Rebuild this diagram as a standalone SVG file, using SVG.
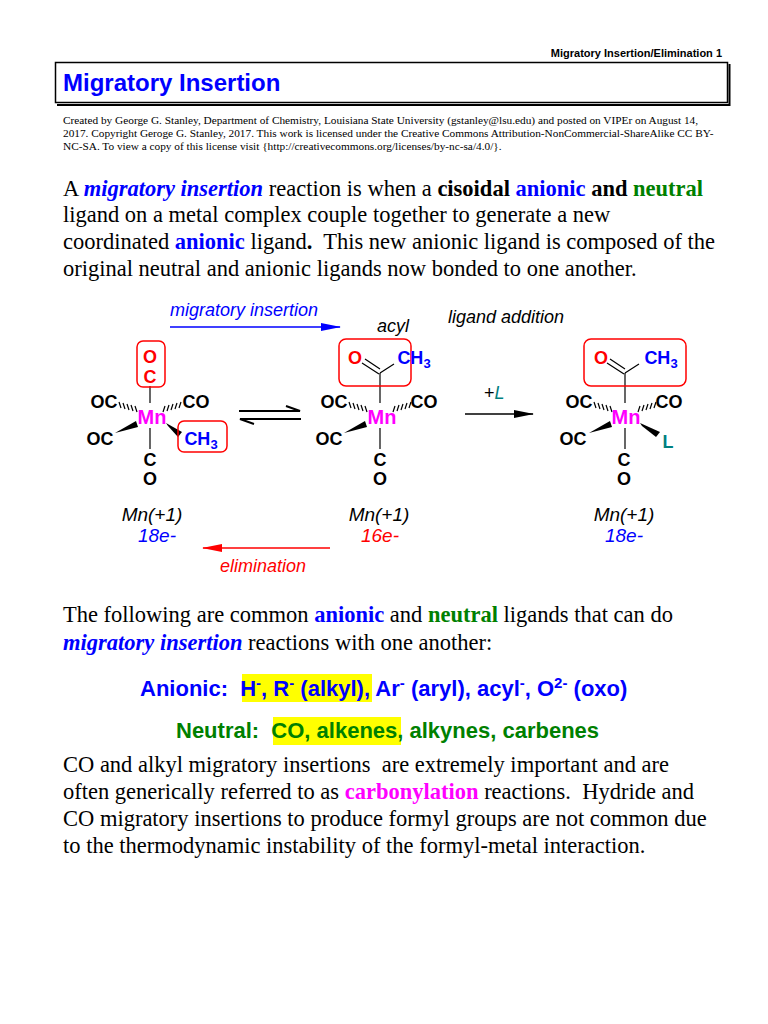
<svg xmlns="http://www.w3.org/2000/svg" width="768" height="1024" viewBox="0 0 768 1024">
<style>
.s{font-family:"Liberation Serif",serif;fill:#000}
.a{font-family:"Liberation Sans",Arial,sans-serif}
.m{font-family:"Liberation Sans",Arial,sans-serif;font-weight:bold;font-size:18px;text-anchor:middle}
.mn{font-size:20px}
.bl{fill:#0000ff}.gr{fill:#008000}.rd{fill:#ff0000}.mg{fill:#ff00ff}.tl{fill:#008080}
.box{fill:none;stroke:#ff0000;stroke-width:1.5}
.bd{stroke:#000;stroke-width:1.2}
</style>
<defs>
<marker id="hb" viewBox="0 0 20 10" refX="19" refY="5" markerWidth="20" markerHeight="10" markerUnits="userSpaceOnUse" orient="auto"><path d="M0,1 L20,5 L0,9 z" fill="#0000ff"/></marker>
<marker id="hr" viewBox="0 0 20 10" refX="19" refY="5" markerWidth="20" markerHeight="10" markerUnits="userSpaceOnUse" orient="auto"><path d="M0,1 L20,5 L0,9 z" fill="#ff0000"/></marker>
<marker id="hk" viewBox="0 0 20 10" refX="19" refY="5" markerWidth="20" markerHeight="10" markerUnits="userSpaceOnUse" orient="auto"><path d="M0,1 L20,5 L0,9 z" fill="#000"/></marker>
</defs>
<rect width="768" height="1024" fill="#fff"/>
<text x="722" y="57" class="a" font-size="11" font-weight="bold" text-anchor="end">Migratory Insertion/Elimination 1</text>
<rect x="55.5" y="62.5" width="672" height="40" fill="none" stroke="#000" stroke-width="1.5"/>
<path d="M729.5,64 V105 H57" fill="none" stroke="#000" stroke-width="2"/>
<text x="63" y="91" class="a bl" font-size="24" font-weight="bold">Migratory Insertion</text>
<g class="s" font-size="11.3">
<text x="63" y="124">Created by George G. Stanley, Department of Chemistry, Louisiana State University (gstanley@lsu.edu) and posted on VIPEr on August 14,</text>
<text x="63" y="137">2017. Copyright Geroge G. Stanley, 2017. This work is licensed under the Creative Commons Attribution-NonCommercial-ShareAlike CC BY-</text>
<text x="63" y="150">NC-SA. To view a copy of this license visit {http://creativecommons.org/licenses/by-nc-sa/4.0/}.</text>
</g>
<g class="s" font-size="22.5">
<text x="63" y="196">A <tspan class="bl" font-weight="bold" font-style="italic">migratory insertion</tspan> reaction is when a <tspan font-weight="bold">cisoidal</tspan> <tspan class="bl" font-weight="bold">anionic</tspan> <tspan font-weight="bold">and</tspan> <tspan class="gr" font-weight="bold">neutral</tspan></text>
<text x="63" y="222">ligand on a metal complex couple together to generate a new</text>
<text x="63" y="249">coordinated <tspan class="bl" font-weight="bold">anionic</tspan> ligand<tspan font-weight="bold">.</tspan>&#160; This new anionic ligand is composed of the</text>
<text x="63" y="276">original neutral and anionic ligands now bonded to one another.</text>
</g>
<g id="connectors">
<line x1="170" y1="327" x2="340" y2="327" stroke="#0000ff" stroke-width="1.3" marker-end="url(#hb)"/>
<line x1="330" y1="548" x2="203" y2="548" stroke="#ff0000" stroke-width="1.3" marker-end="url(#hr)"/>
<line x1="465" y1="414" x2="533" y2="414" stroke="#000" stroke-width="1.5" marker-end="url(#hk)"/>
<path d="M239,411 H300 L286,406" fill="none" stroke="#000" stroke-width="2"/>
<path d="M301,419 H240 L254,424" fill="none" stroke="#000" stroke-width="2"/>
</g>
<text x="170" y="316" class="a bl" font-size="18" font-style="italic">migratory insertion</text>
<text x="377" y="332" class="a" font-size="18" font-style="italic">acyl</text>
<text x="448" y="323" class="a" font-size="18" font-style="italic">ligand addition</text>
<text x="220" y="572" class="a rd" font-size="18" font-style="italic">elimination</text>
<text x="484" y="399" class="a" font-size="18">+<tspan class="tl" font-style="italic">L</tspan></text>
<g id="m1">
<line x1="150" y1="386" x2="150" y2="403" class="bd"/>
<line x1="150" y1="428" x2="150" y2="449" class="bd"/>
<path d="M119,402 l2,6 M123,403 l2,6 M127,404 l2,6 M131,405 l2,6 M135,406 l2,6 M163,412 l2,-6 M167,411 l2,-6 M171,410 l2,-6 M175,409 l2,-6 M179,408 l2,-6" stroke="#000" stroke-width="1.2"/>
<path d="M115,433 L136,421 L138,427 z" fill="#000"/>
<path d="M166,423 L182,432 L178,437 L168,426 z" fill="#000"/>
<rect x="137" y="341" width="28" height="46" rx="6" class="box"/>
<rect x="178" y="421" width="49" height="31" rx="6" class="box"/>
<text x="150" y="363" class="m rd">O</text><text x="150" y="383" class="m rd">C</text>
<text x="104" y="408" class="m">OC</text><text x="196" y="408" class="m">CO</text>
<text x="152" y="424" class="m mn mg">Mn</text>
<text x="100" y="445" class="m">OC</text>
<text x="201" y="445" class="m bl">CH<tspan font-size="13" dy="4">3</tspan></text>
<text x="150" y="466" class="m">C</text><text x="150" y="485" class="m">O</text>
</g>
<g id="m2">
<line x1="380" y1="373" x2="380" y2="403" class="bd"/>
<line x1="380" y1="428" x2="380" y2="449" class="bd"/>
<path d="M362,363 l17,11 M365,359 l15,10 M380,373 l14,-9" stroke="#000" stroke-width="1.2" fill="none"/>
<path d="M349,402 l2,6 M353,403 l2,6 M357,404 l2,6 M361,405 l2,6 M365,406 l2,6 M393,412 l2,-6 M397,411 l2,-6 M401,410 l2,-6 M405,409 l2,-6 M409,408 l2,-6" stroke="#000" stroke-width="1.2"/>
<path d="M344,433 L365,421 L367,427 z" fill="#000"/>
<rect x="339" y="339" width="72" height="47" rx="7" class="box"/>
<text x="355" y="364" class="m rd">O</text>
<text x="414" y="364" class="m bl">CH<tspan font-size="13" dy="4">3</tspan></text>
<text x="334" y="408" class="m">OC</text><text x="424" y="408" class="m">CO</text>
<text x="382" y="424" class="m mn mg">Mn</text>
<text x="329" y="445" class="m">OC</text>
<text x="380" y="466" class="m">C</text><text x="380" y="485" class="m">O</text>
</g>
<g id="m3">
<line x1="625" y1="373" x2="625" y2="403" class="bd"/>
<line x1="625" y1="428" x2="625" y2="449" class="bd"/>
<path d="M607,363 l17,11 M610,359 l15,10 M625,373 l14,-9" stroke="#000" stroke-width="1.2" fill="none"/>
<path d="M594,402 l2,6 M598,403 l2,6 M602,404 l2,6 M606,405 l2,6 M610,406 l2,6 M638,412 l2,-6 M642,411 l2,-6 M646,410 l2,-6 M650,409 l2,-6 M654,408 l2,-6" stroke="#000" stroke-width="1.2"/>
<path d="M589,433 L610,421 L612,427 z" fill="#000"/>
<path d="M640,423 L660,432 L656,437 L642,426 z" fill="#000"/>
<rect x="584" y="339" width="102" height="47" rx="7" class="box"/>
<text x="601" y="364" class="m rd">O</text>
<text x="661" y="364" class="m bl">CH<tspan font-size="13" dy="4">3</tspan></text>
<text x="579" y="408" class="m">OC</text><text x="669" y="408" class="m">CO</text>
<text x="626" y="424" class="m mn mg">Mn</text>
<text x="573" y="445" class="m">OC</text>
<text x="668" y="448" class="m tl">L</text>
<text x="624" y="466" class="m">C</text><text x="624" y="485" class="m">O</text>
</g>
<g class="a" font-size="19" font-style="italic" text-anchor="middle">
<text x="152" y="521">Mn(+1)</text><text x="157" y="542" class="bl">18e-</text>
<text x="379" y="521">Mn(+1)</text><text x="380" y="542" class="rd">16e-</text>
<text x="624" y="521">Mn(+1)</text><text x="624" y="542" class="bl">18e-</text>
</g>
<g class="s" font-size="22.5">
<text x="63" y="622">The following are common <tspan class="bl" font-weight="bold">anionic</tspan> and <tspan class="gr" font-weight="bold">neutral</tspan> ligands that can do</text>
<text x="63" y="650"><tspan class="bl" font-weight="bold" font-style="italic">migratory insertion</tspan> reactions with one another:</text>
</g>
<rect x="242" y="674" width="130" height="28" fill="#ffff00"/>
<rect x="273" y="717" width="128" height="28" fill="#ffff00"/>
<text x="140" y="696" class="a bl" font-size="22" font-weight="bold">Anionic:&#160; H<tspan font-size="15" dy="-8">-</tspan><tspan dy="8">, R</tspan><tspan font-size="15" dy="-8">-</tspan><tspan dy="8"> (alkyl), Ar</tspan><tspan font-size="15" dy="-8">-</tspan><tspan dy="8"> (aryl), acyl</tspan><tspan font-size="15" dy="-8">-</tspan><tspan dy="8">, O</tspan><tspan font-size="15" dy="-8">2-</tspan><tspan dy="8"> (oxo)</tspan></text>
<text x="176" y="738" class="a gr" font-size="22" font-weight="bold">Neutral:&#160; CO, alkenes, alkynes, carbenes</text>
<g class="s" font-size="22.5">
<text x="63" y="772">CO and alkyl migratory insertions&#160; are extremely important and are</text>
<text x="63" y="799">often generically referred to as <tspan class="mg" font-weight="bold">carbonylation</tspan> reactions.&#160; Hydride and</text>
<text x="63" y="826">CO migratory insertions to produce formyl groups are not common due</text>
<text x="63" y="853">to the thermodynamic instability of the formyl-metal interaction.</text>
</g>
</svg>
